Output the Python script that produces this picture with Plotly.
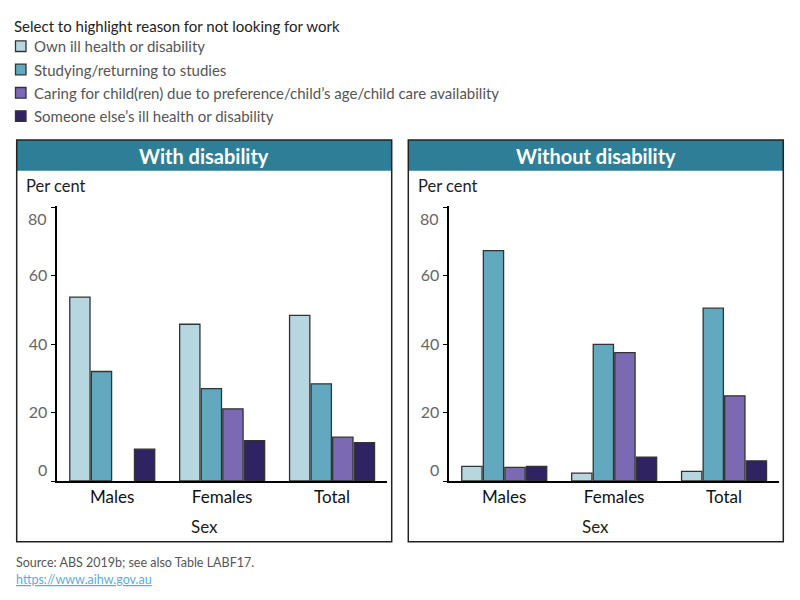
import plotly.graph_objects as go

# ---- data ----
categories = ["Males", "Females", "Total"]
reasons = [
    "Own ill health or disability",
    "Studying/returning to studies",
    "Caring for child(ren) due to preference/child\u2019s age/child care availability",
    "Someone else\u2019s ill health or disability",
]
colors = ["#b7d7e0", "#62a8bf", "#7b69b3", "#2f2363"]

with_own = [53.7, 45.8, 48.4]
with_study = [32.0, 27.0, 28.4]
with_caring = [None, 21.1, 12.8]
with_someone = [9.3, 11.8, 11.2]

without_own = [4.3, 2.3, 2.8]
without_study = [67.3, 39.9, 50.5]
without_caring = [4.0, 37.5, 24.9]
without_someone = [4.3, 7.0, 5.9]

panel_titles = ["With disability", "Without disability"]
y_ticks = [0, 20, 40, 60, 80]
y_title = "Per cent"
x_title = "Sex"
legend_title = "Select to highlight reason for not looking for work"
source_text = "Source: ABS 2019b; see also Table LABF17."
url_text = "https://www.aihw.gov.au"

W, H = 800, 600
FONT = "Lato"


def X(px):
    return px / W


def Y(py):
    return 1 - py / H


fig = go.Figure()

series_with = [with_own, with_study, with_caring, with_someone]
series_without = [without_own, without_study, without_caring, without_someone]

for i, (name, col) in enumerate(zip(reasons, colors)):
    fig.add_trace(go.Bar(x=categories, y=series_with[i], name=name,
                         marker=dict(color=col, line=dict(color="#333333", width=1.3)),
                         xaxis="x", yaxis="y", showlegend=False))
    fig.add_trace(go.Bar(x=categories, y=series_without[i], name=name,
                         marker=dict(color=col, line=dict(color="#333333", width=1.3)),
                         xaxis="x2", yaxis="y2", showlegend=False))

y_bottom, y_top = 481, 205.5
panels = [
    dict(box=(16.7, 391.7), axis_x=57.3, right=387.0, xa="xaxis", ya="yaxis", yref="y"),
    dict(box=(408.3, 783.3), axis_x=449.3, right=779.0, xa="xaxis2", ya="yaxis2", yref="y2"),
]


def ann(x, y, text, size, color, xanchor="center", xref="paper", yref="paper", **kw):
    d = dict(x=x, y=y, xref=xref, yref=yref, text=text, showarrow=False,
             xanchor=xanchor, yanchor="middle",
             font=dict(family=FONT, size=size, color=color))
    d.update(kw)
    return d


shapes = []
annotations = []
for p, title in zip(panels, panel_titles):
    x0, x1 = p["box"]
    xdom = [X(p["axis_x"]), X(p["right"])]
    ydom = [Y(y_bottom), Y(y_top)]
    xa_anchor = "y" if p["ya"] == "yaxis" else "y2"
    ya_anchor = "x" if p["xa"] == "xaxis" else "x2"
    fig.layout[p["xa"]] = dict(domain=xdom, anchor=xa_anchor, type="category",
                               showline=True, linecolor="#000000", linewidth=1.5,
                               ticks="", showgrid=False, zeroline=False,
                               tickfont=dict(family=FONT, size=17, color="#111111"),
                               fixedrange=True)
    fig.layout[p["ya"]] = dict(domain=ydom, anchor=ya_anchor, range=[0, 80.5],
                               showline=True, linecolor="#000000", linewidth=1.5,
                               ticks="outside", ticklen=5, tickcolor="#000000", tickwidth=1.2,
                               tickvals=y_ticks,
                               ticktext=["" if v in (y_ticks[0], y_ticks[-1]) else str(v) for v in y_ticks],
                               tickfont=dict(family=FONT, size=16, color="#666666"),
                               showgrid=False, zeroline=False, fixedrange=True)
    # end tick labels pulled inward (Tableau style)
    for v, sh in ((y_ticks[0], 12), (y_ticks[-1], -11)):
        annotations.append(ann(X(p["axis_x"]), v, str(v), 16, "#666666", xanchor="right",
                               yref=p["yref"], xshift=-8, yshift=sh))
    # panel border & header
    shapes.append(dict(type="rect", xref="paper", yref="paper", x0=X(x0), x1=X(x1),
                       y0=Y(541.7), y1=Y(140), line=dict(color="#222222", width=1.5),
                       fillcolor="rgba(0,0,0,0)", layer="above"))
    shapes.append(dict(type="rect", xref="paper", yref="paper", x0=X(x0), x1=X(x1),
                       y0=Y(170.7), y1=Y(140), line=dict(width=0),
                       fillcolor="#2e7e97", layer="below"))
    annotations.append(ann(X((x0 + x1) / 2), Y(156.5), "<b>" + title + "</b>", 20, "#ffffff"))
    annotations.append(ann(X(x0 + 7.5), Y(186.5), y_title, 16.5, "#222222", xanchor="left"))
    annotations.append(ann(X((x0 + x1) / 2), Y(526), x_title, 17, "#222222"))

# legend (manual)
annotations.append(ann(X(12), Y(25.7), legend_title, 15, "#222222", xanchor="left"))
leg_y = [46.2, 69.5, 92.8, 116.1]
for name, col, ly in zip(reasons, colors, leg_y):
    shapes.append(dict(type="rect", xref="paper", yref="paper", x0=X(15.5), x1=X(26),
                       y0=Y(ly + 5.3), y1=Y(ly - 5.3), fillcolor=col,
                       line=dict(color="#333333", width=1.3)))
    annotations.append(ann(X(31.5), Y(ly), name, 15, "#555555", xanchor="left"))

annotations.append(ann(X(14), Y(562), source_text, 12.5, "#555555", xanchor="left"))
annotations.append(ann(X(14), Y(579.5), "<u>" + url_text + "</u>", 12.5, "#5aaede", xanchor="left"))

fig.update_layout(width=W, height=H, margin=dict(l=0, r=0, t=0, b=0),
                  paper_bgcolor="#ffffff", plot_bgcolor="#ffffff",
                  barmode="group", bargap=0.215, bargroupgap=0.06,
                  shapes=shapes, annotations=annotations, showlegend=False,
                  font=dict(family=FONT))

fig.write_html("out.html")
